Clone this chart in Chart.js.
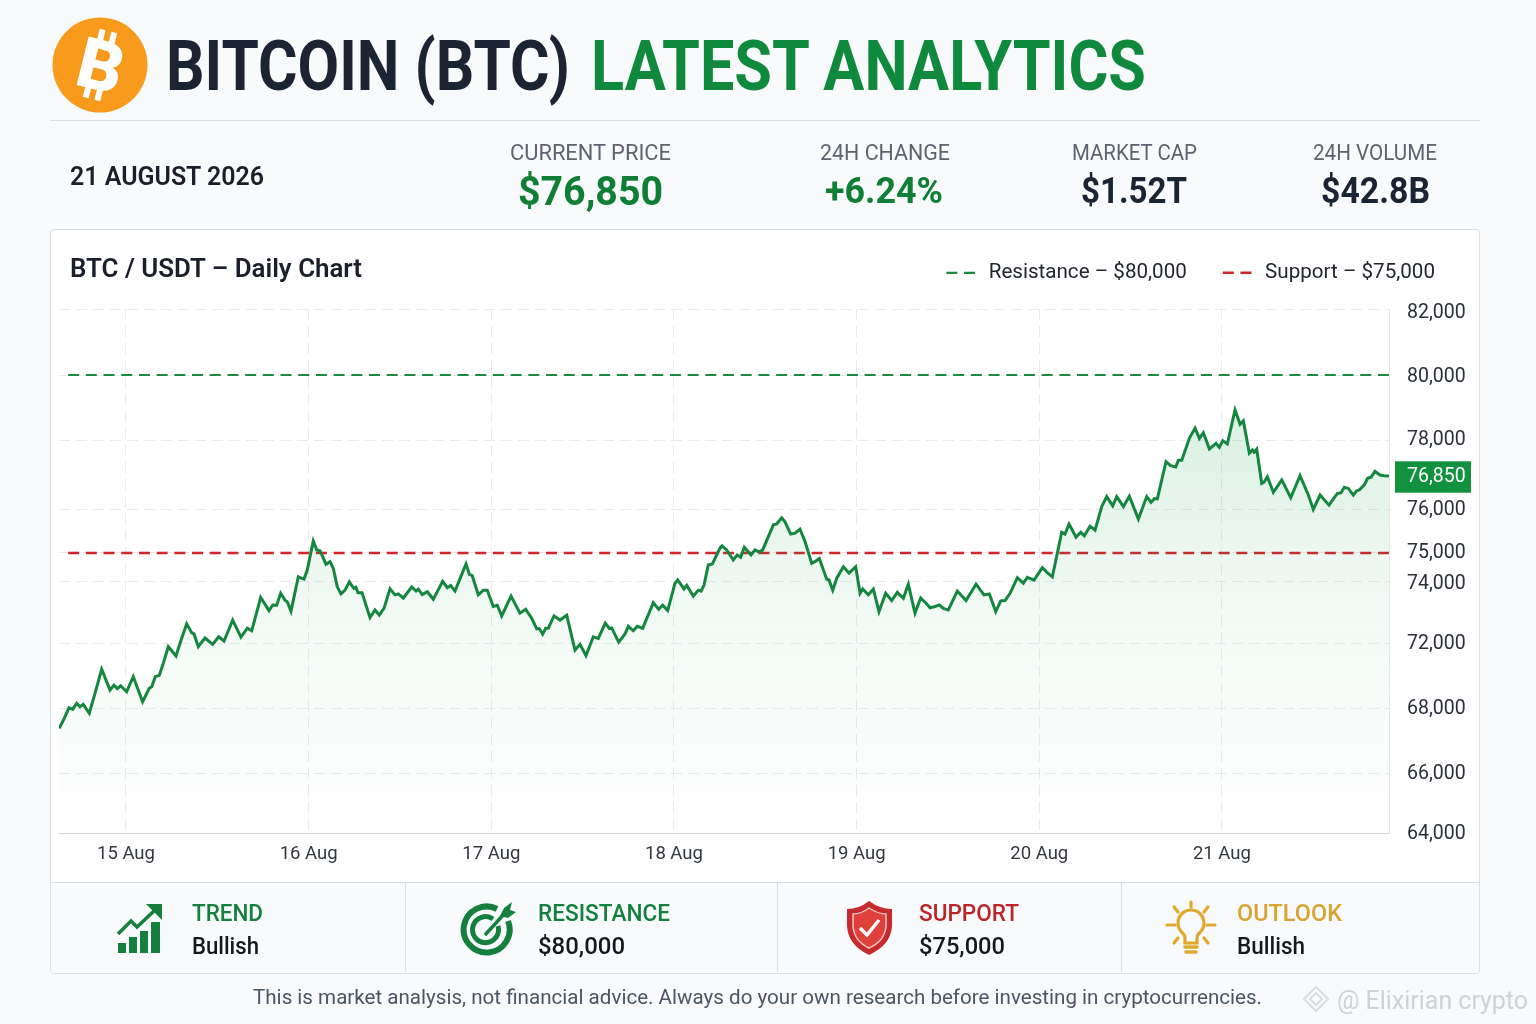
<!DOCTYPE html>
<html>
<head>
<meta charset="utf-8">
<title>Bitcoin latest analytics</title>
<script src="https://cdn.jsdelivr.net/npm/chart.js@4/dist/chart.umd.js"></script>
<style>
  html, body { margin: 0; padding: 0; background: #f9fafc; }
  body { width: 1536px; height: 1024px; position: relative; overflow: hidden; font-family: Roboto, sans-serif; }
  .rule { position: absolute; left: 50px; top: 120px; width: 1430px; height: 1px; background: #d9dde3; }
  .card { position: absolute; left: 50px; top: 229px; width: 1428px; height: 743px; background: #fff; border: 1px solid #dcdfe4; border-radius: 4px; }
  .strip { position: absolute; left: 51px; top: 882px; width: 1428px; height: 90px; background: #f9fafc; border-top: 1px solid #dcdfe4; border-radius: 0 0 4px 4px; }
  .sep { position: absolute; top: 883px; width: 1px; height: 89px; background: #dcdfe4; }
  canvas { position: absolute; left: 50px; top: 220px; }
  .t { position: absolute; white-space: nowrap; line-height: 1; transform-origin: left center; }
  svg.icons { position: absolute; left: 0; top: 0; }
</style>
</head>
<body>
<div class="card"></div>
<div class="strip"></div>
<div class="sep" style="left:405px"></div>
<div class="sep" style="left:777px"></div>
<div class="sep" style="left:1121px"></div>
<div class="rule"></div>
<canvas id="btcChart"></canvas>

<svg class="icons" width="1536" height="1024">
  <circle cx="100" cy="65" r="47.5" fill="#f89b1c"/>
  <g transform="rotate(14 100 65)" fill="#fff">
    <rect x="91" y="30" width="6" height="14"/>
    <rect x="103" y="30" width="6" height="14"/>
    <rect x="91" y="86" width="6" height="14"/>
    <rect x="103" y="86" width="6" height="14"/>
    <text x="101" y="90" font-family="Roboto" font-weight="900" font-size="70" text-anchor="middle">B</text>
  </g>
  <!-- trend -->
  <g fill="#15803d">
    <rect x="118" y="943" width="8" height="10"/><rect x="129" y="937" width="8" height="16"/>
    <rect x="140" y="931" width="8" height="22"/><rect x="151" y="922" width="9" height="31"/>
    <path d="M146 904 L162 904 L162 920 Z"/>
  </g>
  <path d="M118 934 L131 921 L137 927 L155 910" fill="none" stroke="#15803d" stroke-width="3.5"/>
  <!-- target -->
  <g fill="none" stroke="#15803d">
    <path d="M497 909 A23 23 0 1 0 508 921" stroke-width="6"/>
    <path d="M493 919 A13 13 0 1 0 498 926" stroke-width="5"/>
    <path d="M485 935 L505 913" stroke-width="3.5"/>
  </g>
  <path d="M504 908 L512 902 L510 910 L516 912 L508 918 L500 916 Z" fill="#15803d"/>
  <!-- shield -->
  <path d="M869 901 Q880 909 892 909 L892 926 Q891 945 869 955 Q848 945 847 926 L847 909 Q859 909 869 901 Z" fill="#c62b2f"/>
  <path d="M869 908 Q878 914 886 914 L886 926 Q885 941 869 948 Q854 941 853 926 L853 914 Q861 914 869 908 Z" fill="#e0403a" stroke="#f3c4c2" stroke-width="1.5"/>
  <path d="M860 928 L867 935 L879 920" fill="none" stroke="#fff" stroke-width="3.5"/>
  <!-- bulb -->
  <g fill="none" stroke="#e0a92c" stroke-width="3.2" stroke-linecap="round">
    <path d="M1185 943 L1185 938 Q1185 935 1181.6 932 A13 13 0 1 1 1200.4 932 Q1197 935 1197 938 L1197 943 Z"/>
    <path d="M1191 902 L1191 907 M1174 907 L1178 912 M1208 907 L1204 912 M1167 925 L1175 925 M1207 925 L1215 925 M1174 943 L1178 938 M1208 943 L1204 938"/>
    <path d="M1185 947 L1197 947 M1186 952 L1196 952" stroke-width="3.5"/>
  </g>
  <!-- watermark -->
  <g fill="none" stroke="#d9dce0" stroke-width="2">
    <path d="M1316 987 L1328 999 L1316 1011 L1304 999 Z"/><path d="M1316 993 L1322 999 L1316 1005 L1310 999 Z"/>
  </g>
</svg>

<div class="t" data-w="404" style="left:166px;top:66px;font-size:70px;font-weight:700;color:#1a2433">BITCOIN (BTC)</div>
<div class="t" data-w="555" style="left:591px;top:66px;font-size:70px;font-weight:700;color:#0f8a3c">LATEST ANALYTICS</div>
<div class="t" data-w="194" style="left:70px;top:176px;font-size:25px;font-weight:600;color:#1a1f29">21 AUGUST 2026</div>

<div class="t" data-w="161" style="left:510px;top:153px;font-size:22px;color:#5c6470">CURRENT PRICE</div>
<div class="t" data-w="145" style="left:518px;top:191px;font-size:41px;font-weight:700;color:#0f7f35">$76,850</div>
<div class="t" data-w="130" style="left:820px;top:153px;font-size:22px;color:#5c6470">24H CHANGE</div>
<div class="t" data-w="118" style="left:825px;top:191px;font-size:36px;font-weight:700;color:#0f7f35">+6.24%</div>
<div class="t" data-w="125" style="left:1072px;top:153px;font-size:22px;color:#5c6470">MARKET CAP</div>
<div class="t" data-w="106" style="left:1081px;top:191px;font-size:36px;font-weight:700;color:#1a2433">$1.52T</div>
<div class="t" data-w="124" style="left:1313px;top:153px;font-size:22px;color:#5c6470">24H VOLUME</div>
<div class="t" data-w="109" style="left:1321px;top:191px;font-size:36px;font-weight:700;color:#1a2433">$42.8B</div>

<div class="t" data-w="292" style="left:70px;top:268px;font-size:26px;font-weight:600;color:#1a1f29">BTC / USDT – Daily Chart</div>

<div class="t" data-w="71" style="left:192px;top:913px;font-size:23px;font-weight:500;color:#15803d">TREND</div>
<div class="t" data-w="67" style="left:192px;top:946px;font-size:23px;font-weight:500;color:#15181e">Bullish</div>
<div class="t" data-w="132" style="left:538px;top:913px;font-size:23px;font-weight:500;color:#15803d">RESISTANCE</div>
<div class="t" data-w="87" style="left:538px;top:946px;font-size:23px;font-weight:500;color:#15181e">$80,000</div>
<div class="t" data-w="100" style="left:919px;top:913px;font-size:23px;font-weight:500;color:#b92528">SUPPORT</div>
<div class="t" data-w="86" style="left:919px;top:946px;font-size:23px;font-weight:500;color:#15181e">$75,000</div>
<div class="t" data-w="105" style="left:1237px;top:913px;font-size:23px;font-weight:500;color:#d8a530">OUTLOOK</div>
<div class="t" data-w="68" style="left:1237px;top:946px;font-size:23px;font-weight:500;color:#15181e">Bullish</div>

<div class="t" data-w="1009" style="left:253px;top:997px;font-size:20px;color:#4b5563">This is market analysis, not financial advice. Always do your own research before investing in cryptocurrencies.</div>
<div class="t" data-w="191" style="left:1337px;top:1000px;font-size:25px;color:#cfd2d6">@ Elixirian crypto</div>

<script>
// hours counted from 15 Aug 00:00
const priceHours = [
  -8.76,-8.02,-7.49,-7.0,-6.48,-6.04,-5.61,-4.82,-4.07,-3.19,-2.1,-1.58,-1.14,-0.7,0.09,0.96,2.19,3.06,3.38,3.85,
  4.38,4.9,5.56,6.57,7.32,7.98,8.63,8.94,9.5,10.38,11.39,12.18,12.88,14.02,15.11,15.94,16.52,17.7,18.79,19.28,
  19.8,20.33,20.89,21.19,21.68,22.64,23.39,23.82,24.61,25.06,25.49,25.85,26.28,26.81,27.24,27.76,28.25,28.78,29.34,29.96,
  30.22,30.48,31.01,32.06,32.72,33.28,33.9,34.69,35.35,35.78,36.44,37.54,38.11,38.41,38.93,39.59,40.38,41.61,42.22,42.66,
  43.23,44.68,45.11,45.5,46.29,46.95,47.47,48.26,48.79,49.37,50.59,51.77,52.52,53.31,53.97,54.31,54.75,55.15,55.49,56.24,
  57.03,57.91,59,59.66,60.44,61.4,62.06,62.98,63.51,63.82,64.74,65.57,66,66.66,67.18,67.89,69.29,70,70.52,71.18,
  72.14,72.49,73.32,73.68,74.54,75.2,75.56,75.95,76.51,77.04,78.05,78.31,78.93,79.79,80.32,80.77,81.24,82.12,82.65,83.18,
  83.66,85.06,85.5,86.16,86.59,87.34,87.91,88.56,89.22,90.1,90.62,91.1,92.07,92.37,92.86,93.39,94.26,95,95.88,96.45,
  96.8,97.54,98.2,98.94,99.82,100.61,101.35,102.14,102.79,103.67,104.42,105.21,105.65,106.3,106.87,107.39,108.05,109.23,110.38,111.69,
  112.74,113.44,114.28,114.94,115.5,116.16,117.12,117.91,118.43,119.31,120.4,120.98,121.72,122.95,123.38,123.91,124.83,125.45,125.92,126.67,
  127.33,128.2,128.86,129.65,130.18,131.05,131.83,133.02,134.12,134.69,135.12,135.51,136.65,137.27,137.93,138.27,138.72,139.72,140.47,141.03,
  141.56,142.35,143.23,143.66,144.11,144.71,145.72,146.38,146.81,147.6,148,148.22,148.57,149.23,149.53,149.97,150.76,151.86,153.04,154.26,
  155.35,156.01,156.89,158.07,159.16,159.65,160.08,160.61,161.26,161.71,162.05,162.71,163.15,163.59,164.11,164.77,165.29,165.95
];
const priceValues = [
  67375,67730,68020,67960,68290,68080,68230,67840,68920,70420,69125,69420,69210,69390,69020,69960,68390,69230,69330,69960,
  70040,70790,71830,71250,72180,72640,72360,72320,71830,72190,71980,72230,72090,72760,72220,72500,72420,73480,73060,73240,
  73230,73610,73390,73340,73040,74150,74070,74390,75270,75070,75050,74870,74600,74690,74450,73820,73590,73710,73970,73760,
  73800,73630,73630,72840,73080,72920,73130,73750,73560,73590,73460,73810,73680,73740,73570,73660,73420,73990,73790,73860,
  73680,74610,74240,74190,73560,73710,73710,73190,73230,72890,73520,72980,73100,72820,72480,72490,72310,72500,72500,72890,
  72760,72910,71625,71980,71270,72230,72180,72660,72490,72510,72060,72320,72560,72420,72560,72500,73310,73100,73230,73060,
  73930,74040,73750,73860,73520,73710,73680,73870,74570,74610,75110,75160,75070,74750,74930,74850,75130,74930,75070,75020,
  75070,75640,75660,75800,75710,75430,75450,75540,75260,74630,74710,74800,74060,74040,73710,74100,74510,74280,74510,73610,
  73750,73560,73740,73030,73610,73380,73640,73450,73900,72980,73460,73270,73150,73190,73240,73130,73080,73680,73380,73900,
  73560,73590,73030,73370,73380,73610,74120,73930,74130,74030,74480,74320,74150,75470,75430,75660,75360,75470,75390,75610,
  75520,76060,76320,76080,76320,76060,76330,75770,76320,76170,76270,76260,77320,77190,77150,77370,77370,78080,78390,78080,
  78250,77740,77920,77790,78010,77900,78940,78510,78610,77600,77700,77630,77730,76660,76690,76830,76430,76750,76290,76860,
  76360,75990,76360,76100,76400,76420,76560,76530,76360,76470,76490,76620,76790,76820,77000,76880,76860,76850
];

const dayHours = [0, 24, 48, 72, 96, 120, 144];
const dayLabels = ['15 Aug', '16 Aug', '17 Aug', '18 Aug', '19 Aug', '20 Aug', '21 Aug'];
const yTicks = [82000, 80000, 78000, 76850, 76000, 75000, 74000, 72000, 68000, 66000, 64000];
// the printed axis is not evenly spaced, so each tick has its own share of the plot height
const yShares = [0, 0.126, 0.2519, 0.3187, 0.3817, 0.4656, 0.5191, 0.6393, 0.7615, 0.8855, 1];
// the printed labels do not sit exactly on their grid lines
const yLabelNudge = [4, 2, -1, 1, 1, 0, 3, 0, 1, 1, 1];
const lastPrice = 76850;
const resistanceLevel = 80000;
const supportLevel = 75000;
const levelHours = [-7.6, 165.95];

class UnevenScale extends Chart.LinearScale {
  buildTicks() {
    return yTicks.map(v => ({ value: v }));
  }
  getPixelForValue(value) {
    let i = 0;
    while (i < yTicks.length - 2 && value < yTicks[i + 1]) i++;
    const t = (yTicks[i] - value) / (yTicks[i] - yTicks[i + 1]);
    const share = yShares[i] + t * (yShares[i + 1] - yShares[i]);
    return this.top + share * this.height;
  }
  getValueForPixel(pixel) {
    const share = (pixel - this.top) / this.height;
    let i = 0;
    while (i < yShares.length - 2 && share > yShares[i + 1]) i++;
    const t = (share - yShares[i]) / (yShares[i + 1] - yShares[i]);
    return yTicks[i] + t * (yTicks[i + 1] - yTicks[i]);
  }
  _computeLabelItems(chartArea) {
    const items = super._computeLabelItems(chartArea);
    items.forEach((item, i) => { item.options.translation[1] += yLabelNudge[i]; });
    return items;
  }
}
UnevenScale.id = 'uneven';
UnevenScale.defaults = Chart.LinearScale.defaults;
Chart.register(UnevenScale);

// keeps the legend row from pushing the plot down too far
const legendBox = {
  id: 'legendBox',
  beforeLayout(chart) {
    const legend = chart.legend;
    if (legend && !legend.sized) {
      const fit = legend.fit;
      legend.fit = function () { fit.call(this); this.height = 82.5; };
      legend.sized = true;
    }
  }
};

const ctx = document.getElementById('btcChart').getContext('2d');
const gridColor = '#e9ebef';
const canvas = document.getElementById('btcChart');
canvas.style.width = '1430px';
canvas.style.height = '662px';
canvas.width = 1430;
canvas.height = 662;

new Chart(ctx, {
  type: 'line',
  plugins: [legendBox],
  data: {
    datasets: [
      {
        label: 'BTC / USDT',
        data: priceHours.map((h, i) => ({ x: h, y: priceValues[i] })),
        borderColor: '#15863f',
        borderWidth: 3,
        pointRadius: 0,
        tension: 0,
        fill: 'start',
        backgroundColor: c => {
          const area = c.chart.chartArea;
          if (!area) return 'transparent';
          const g = c.chart.ctx.createLinearGradient(0, area.top + 90, 0, area.bottom);
          g.addColorStop(0, 'rgba(22,163,74,0.16)');
          g.addColorStop(0.5, 'rgba(22,163,74,0.055)');
          g.addColorStop(1, 'rgba(22,163,74,0)');
          return g;
        }
      },
      {
        label: 'Resistance – $80,000',
        data: levelHours.map(h => ({ x: h, y: resistanceLevel })),
        borderColor: '#1b8a45',
        backgroundColor: '#1b8a45',
        borderWidth: 2.2,
        borderDash: [11, 6.7],
        pointRadius: 0,
        fill: false
      },
      {
        label: 'Support – $75,000',
        data: levelHours.map(h => ({ x: h, y: supportLevel })),
        borderColor: '#d1262c',
        backgroundColor: '#d1262c',
        borderWidth: 2.6,
        borderDash: [11, 6.7],
        pointRadius: 0,
        fill: false
      }
    ]
  },
  options: {
    responsive: false,
    animation: false,
    layout: { padding: { left: 9, right: 9, top: 6.5, bottom: 0 } },
    plugins: {
      tooltip: { enabled: false },
      legend: {
        position: 'top',
        align: 'end',
        labels: {
          filter: item => item.datasetIndex > 0,
          boxWidth: 32,
          boxHeight: 0,
          padding: 36,
          color: '#22262e',
          font: { family: 'Roboto', size: 20.6 }
        }
      }
    },
    scales: {
      x: {
        type: 'linear',
        min: -8.8,
        max: 165.95,
        afterBuildTicks: s => { s.ticks = dayHours.map(v => ({ value: v })); },
        afterFit: s => { s.height = 49; },
        grid: { color: gridColor, drawTicks: false },
        border: { color: '#d5d9de', dash: [11, 6] },
        ticks: {
          padding: 10,
          autoSkip: false,
          maxRotation: 0,
          color: '#33383f',
          font: { family: 'Roboto', size: 18.5 },
          callback: v => dayLabels[dayHours.indexOf(v)]
        }
      },
      y: {
        type: 'uneven',
        position: 'right',
        min: 64000,
        max: 82000,
        afterFit: s => { s.width = 82; },
        grid: {
          drawTicks: false,
          color: c => (c.tick && c.tick.value === lastPrice ? 'transparent' : gridColor)
        },
        border: { color: '#e5e7eb', dash: [11, 6] },
        ticks: {
          padding: 18,
          autoSkip: false,
          color: c => (c.tick.value === lastPrice ? '#ffffff' : '#2a2f38'),
          font: { family: 'Roboto', size: 19.5 },
          showLabelBackdrop: c => c.tick.value === lastPrice,
          backdropColor: '#12923f',
          backdropPadding: { x: 12, y: 4 },
          callback: v => v.toLocaleString('en-US')
        }
      }
    }
  }
});

// squeeze each text to the width it has on the sheet
document.querySelectorAll('.t').forEach(el => {
  const w = el.getBoundingClientRect().width;
  el.style.transform = 'translateY(-50%) scaleX(' + (el.dataset.w / w) + ')';
});
</script>
</body>
</html>
